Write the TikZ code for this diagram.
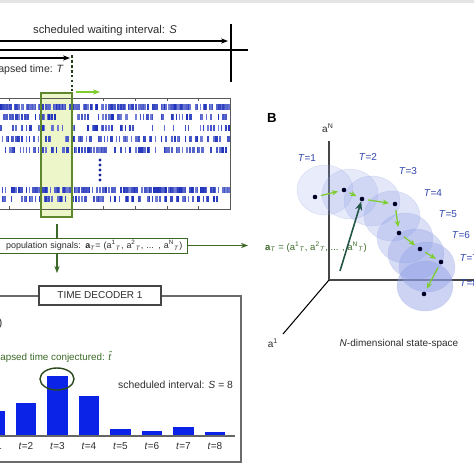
\documentclass[tikz,border=0pt]{standalone}
\usepackage{fontspec}
\setmainfont{Liberation Sans}
\usetikzlibrary{arrows.meta, positioning, shapes.geometric}

\definecolor{topgray}{RGB}{228,228,228}
\definecolor{spikeblue}{RGB}{25,45,185}
\definecolor{hlfill}{RGB}{236,246,200}
\definecolor{hlline}{RGB}{95,135,45}
\definecolor{dkgreen}{RGB}{60,105,40}
\definecolor{ltgreen}{RGB}{125,205,45}
\definecolor{barblue}{RGB}{10,35,230}
\definecolor{axisgray}{RGB}{70,70,70}
\definecolor{ellblue}{RGB}{145,160,230}
\definecolor{tblue}{RGB}{50,70,170}
\definecolor{txtgray}{RGB}{45,45,45}
\definecolor{tealarrow}{RGB}{35,85,70}

\tikzset{
  tip/.style={-{Stealth[length=4pt,width=3pt]}},
  popbox/.style={draw=dkgreen, fill=white, line width=0.5pt, minimum height=0.3cm, inner xsep=3pt, inner ysep=1.5pt, text=txtgray},
  decbox/.style={draw=axisgray, fill=white, line width=0.6pt, minimum width=2.44cm, minimum height=0.38cm, text=txtgray},
  dot/.style={circle, fill=black!85!blue, inner sep=0pt, minimum size=2.6pt},
  stepfwd/.style={-{Stealth[length=3.5pt,width=3pt]}, ltgreen, line width=0.7pt, shorten <=2pt, shorten >=2pt},
  tlab/.style={text=tblue}
}

\begin{document}
\begin{tikzpicture}[x=0.02cm, y=-0.02cm, font=\fontsize{5.7}{6.8}\selectfont, text=txtgray]
\clip (0,0) rectangle (474,474);
\fill[white] (0,0) rectangle (474,474);
\fill[topgray] (0,0) rectangle (474,2.5);

% time line on top
\coordinate (sw-from) at (-5,41);
\coordinate (sw-to) at (228,41);
\coordinate (el-from) at (-5,58);
\coordinate (el-to) at (70,58);
\draw[tip, line width=0.6pt] (sw-from) -- (sw-to);
\node[font=\fontsize{6.4}{7.6}\selectfont] (swlabel) at (105,31) {scheduled waiting interval: \textit{S}};
\draw[line width=0.6pt] (231,24) -- (231,82);
\draw[line width=0.7pt] (-5,50) -- (248,50);
\draw[tip, line width=0.6pt] (el-from) -- (el-to);
\node[anchor=east, font=\fontsize{6}{7.2}\selectfont] (ellabel) at (70,70) {elapsed time: \textit{T}};
\draw[dkgreen!60!black, dashed, dash pattern=on 1.6pt off 1.2pt, line width=0.6pt] (72,55) -- (72,91);
\draw[tip, ltgreen, line width=0.6pt] (76,92) -- (100,92);

% raster
\fill[hlfill] (41,93) rectangle (72,217);
\pgfmathsetseed{11}
\foreach \ry/\dens in {107/0.74, 117/0.4, 128/0.3, 139/0.44, 150/0.48, 190/0.74, 199/0.44}{
  \foreach \rx in {1,2.5,...,229}{
    \pgfmathtruncatemacro\hit{rnd<\dens}
    \pgfmathtruncatemacro\shade{60+40*rnd}
    \ifnum\hit=1
      \draw[spikeblue!\shade!white, line width=0.8pt] (\rx,\ry-3.2) -- (\rx,\ry+3.2);
    \fi
  }
}
\foreach \dy in {160,165,...,180}
  \fill[spikeblue!80!black] (100,\dy) circle (1.6);
\draw[black!65, line width=0.5pt] (-5,98) rectangle (230,209);
\foreach \k in {0,...,6}{
  \draw[black!65, line width=0.4pt] ({9+31.6*\k},98) -- ++(0,3);
  \draw[black!65, line width=0.4pt] ({9+31.6*\k},209) -- ++(0,-3);
}
\draw[hlline, line width=0.6pt] (41,93) rectangle (72,217);

% population signals
\node[popbox, anchor=east, text width=4.3cm, align=right, font=\fontsize{5.1}{6.2}\selectfont] (pop) at (188,245.5)
  {population signals: \textbf{a}\textsubscript{\textit{T}}= (a\textsuperscript{1}\textsubscript{\textit{T}}, a\textsuperscript{2}\textsubscript{\textit{T}}, ... , a\textsuperscript{N}\textsubscript{\textit{T}})};
\coordinate (hl-out) at (57,224);
\coordinate (dec-in) at (57,273);
\coordinate (space-in) at (248,245.5);
\draw[dkgreen, line width=0.6pt] (hl-out) -- (hl-out |- pop.north);
\draw[tip, dkgreen, line width=0.6pt] (pop.south -| dec-in) -- (dec-in);
\draw[tip, dkgreen, line width=0.6pt] (pop.east) -- (space-in);

% time decoder
\draw[axisgray!80, line width=0.6pt] (-5,296) rectangle (241,462);
\node[decbox] (decoder) at (100,295.5) {TIME DECODER 1};
\node[anchor=east, font=\fontsize{6.4}{7.6}\selectfont] (paren) at (8.5,324) {)};
\node[anchor=east, text=dkgreen, font=\fontsize{5.6}{6.8}\selectfont] (guess) at (119,357) {elapsed time conjectured: \textit{\^{t}}};
\node[anchor=west, font=\fontsize{5.9}{7}\selectfont] (sched) at (112,385) {scheduled interval: \textit{S} = 8};
\foreach \k/\top in {1/411, 2/403, 3/376, 4/396, 5/429, 6/431, 7/427, 8/432}{
  \fill[barblue] ({26+31.5*(\k-2)-10.3},436) rectangle ({26+31.5*(\k-2)+10.3},\top);
  \node (tk\k) at ({26+31.5*(\k-2)},446) {\textit{t}=\k};
}
\draw[black!60, line width=0.6pt] (-5,436) -- (235,436);
\draw[dkgreen!70!black, line width=0.8pt] (57,379) ellipse (17 and 11);

% B: state space
\node[font=\bfseries\fontsize{7.5}{9}\selectfont, text=black] (B) at (272,118) {B};
\coordinate (origin) at (329,280);
\draw[axisgray, line width=0.7pt] (origin) -- (329,141);
\draw[axisgray, line width=0.7pt] (origin) -- (480,280);
\draw[black, line width=0.6pt] (origin) -- (283,334);
\node (aN) at (328,128) {a\textsuperscript{N}};
\node (a1) at (273,343) {a\textsuperscript{1}};
\node (spacename) at (399,344) {\textit{N}-dimensional state-space};

\foreach \cx/\cy/\op in {325/190/0.2, 350/194/0.22, 372/201/0.25, 392/216/0.28, 405/238/0.32, 416/254/0.36, 427/267/0.4, 425/286/0.46}
  \filldraw[ellblue, fill opacity=\op, draw opacity=0.25, line width=0.3pt] (\cx,\cy) ellipse (28 and 25);

\foreach \i/\px/\py in {1/315/197, 2/344/190, 3/362/199, 4/395/204, 5/399/233, 6/420/249, 7/441/262, 8/424/294}
  \node[dot] (p\i) at (\px,\py) {};
\foreach \i [evaluate=\i as \j using int(\i+1)] in {1,...,7}
  \draw[stepfwd] (p\i) -- (p\j);

\foreach \i/\lx/\ly in {1/307/158, 2/368/157, 3/408/171, 4/433/193, 5/448/214, 6/461/235, 7/469/258, 8/469/283}
  \node[tlab] (T\i) at (\lx,\ly) {\textit{T}=\i};

\node[text=dkgreen, font=\fontsize{5.4}{6.4}\selectfont] (avec) at (316,247) {\textbf{a}\textsubscript{\textit{T}} = (a\textsuperscript{1}\textsubscript{\textit{T}}, a\textsuperscript{2}\textsubscript{\textit{T}}, ... , a\textsuperscript{N}\textsubscript{\textit{T}})};
\coordinate (avec-tail) at (340,271);
\draw[-{Stealth[length=5pt,width=4pt]}, tealarrow, line width=0.9pt] (avec-tail) -- (p3);
\end{tikzpicture}
\end{document}
